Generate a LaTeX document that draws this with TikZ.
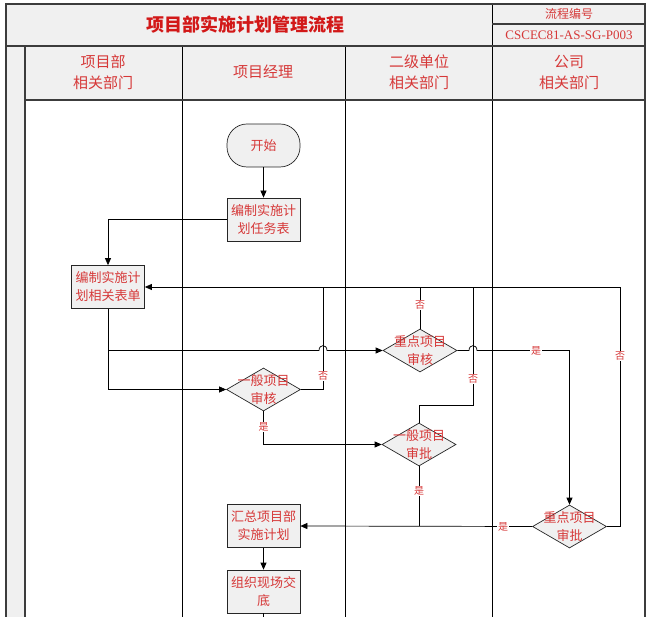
\documentclass[tikz,border=0pt]{standalone}
\usepackage{fontspec}
\setmainfont{Noto Sans CJK SC}
\newfontfamily\latinserif{Liberation Serif}
\usetikzlibrary{shapes.geometric,arrows.meta}
\definecolor{txtred}{RGB}{214,56,56}
\definecolor{titlered}{RGB}{210,24,24}
\definecolor{boxfill}{RGB}{240,240,240}
\definecolor{framec}{RGB}{60,60,60}
\tikzset{
  proc/.style={draw=black!85, fill=boxfill, minimum width=73pt, minimum height=43pt, inner sep=0pt, align=center, text=txtred, font=\fontsize{13}{18}\selectfont, line width=0.7pt},
  term/.style={proc, rounded corners=20pt},
  dia/.style={draw=black!85, diamond, fill=boxfill, minimum width=74pt, minimum height=43pt, inner sep=0pt, line width=0.7pt},
  dtext/.style={text=txtred, align=center, inner sep=0pt, font=\fontsize{13}{18}\selectfont},
  lab/.style={fill=white, text=txtred, inner sep=1pt, font=\fontsize{10}{11}\selectfont},
  conn/.style={draw=black, line width=0.7pt},
  arr/.style={conn, -{Triangle[length=7pt,width=6pt]}},
  frame/.style={draw=framec, line width=1.1pt},
  lane/.style={draw=black, line width=0.9pt},
  head/.style={text=txtred, align=center, font=\fontsize{15}{21}\selectfont}
}
\begin{document}
\begin{tikzpicture}[x=1pt,y=-1pt]
\useasboundingbox (0,0) rectangle (653,617);
\fill[white] (0,0) rectangle (653,617);
% fills
\fill[boxfill] (6,4) rectangle (645,46);
\fill[boxfill] (25,46) rectangle (645,100);
\fill[boxfill] (6,46) rectangle (25,617);
% lane lines
\draw[lane] (182,46) -- (182,617);
\draw[lane] (345,46) -- (345,617);
\draw[lane] (492,4) -- (492,617);
% frame
\draw[frame] (6,617) -- (6,4) -- (645,4) -- (645,617);
\draw[frame] (6,46) -- (645,46);
\draw[frame] (25,46) -- (25,617);
\draw[frame] (25,100) -- (645,100);
\draw[frame] (492,24) -- (645,24);
% title texts
\node[text=titlered, font=\bfseries\fontsize{18}{20}\selectfont] (title) at (245,25) {项目部实施计划管理流程};
\node[text=txtred, font=\fontsize{12}{14}\selectfont] (codelabel) at (569,14) {流程编号};
\node[text=txtred, font=\latinserif\fontsize{13}{14}\selectfont] (code) at (569,35) {CSCEC81-AS-SG-P003};
% headers
\node[head] (h1) at (103,72) {项目部\\相关部门};
\node[head] (h2) at (263,72) {项目经理};
\node[head] (h3) at (419,72) {二级单位\\相关部门};
\node[head] (h4) at (569,72) {公司\\相关部门};
% nodes
\node[term] (start) at (263.5,145.5) {开始};
\node[proc] (task) at (263.5,219.5) {编制实施计\\划任务表};
\node[proc] (related) at (108,287) {编制实施计\\划相关表单};
\node[dia] (gen1) at (263.5,389.5) {};
\node[dtext] (gen1t) at (gen1.center) {一般项目\\审核};
\node[dia] (key1) at (420,350.5) {};
\node[dtext] (key1t) at (key1.center) {重点项目\\审核};
\node[dia] (gen2) at (419,444.5) {};
\node[dtext] (gen2t) at (gen2.center) {一般项目\\审批};
\node[dia] (keyapp) at (569.5,526.5) {};
\node[dtext] (keyappt) at (keyapp.center) {重点项目\\审批};
\node[proc] (sum) at (263.5,526) {汇总项目部\\实施计划};
\node[proc] (org) at (263.5,591.5) {组织现场交\\底};
\coordinate (bottom) at (263.5,617);
\coordinate (j1) at (108,350.5);
% connectors
\draw[arr] (start) -- (task);
\draw[arr] (task.west) -| (related.north);
\draw[arr] (related.south) |- (gen1.west);
\draw[arr] (j1) -- (319,350.5) .. controls (319,344) and (327,344) .. (327,350.5) -- (key1.west);
\draw[conn] (gen1.east) -- (323,389.5) -- (323,287);
\draw[conn] (key1.north) -- (420,287);
\draw[arr] (key1.east) -- (469,350.5) .. controls (469,344) and (477,344) .. (477,350.5) -- (569.5,350.5) -- (keyapp.north);
\draw[conn] (gen2.north) -- (419,405) -- (473,405) -- (473,287);
\draw[arr] (gen1.south) |- (gen2.west);
\draw[conn] (gen2.south) -- (419,526);
\draw[arr] (keyapp.west) -- (sum.east);
\draw[arr] (keyapp.east) -- (620,526.5) -- (620,287) -- (related.east);
\draw[arr] (sum) -- (org);
\draw[conn] (org.south) -- (bottom);
% labels
\node[lab] (l1) at (323,376) {否};
\node[lab] (l2) at (420,305) {否};
\node[lab] (l3) at (473,379) {否};
\node[lab] (l4) at (620,356) {否};
\node[lab] (l5) at (263.5,427) {是};
\node[lab] (l6) at (536,350.5) {是};
\node[lab] (l7) at (419,491) {是};
\node[lab] (l8) at (503,526.5) {是};
\end{tikzpicture}
\end{document}
